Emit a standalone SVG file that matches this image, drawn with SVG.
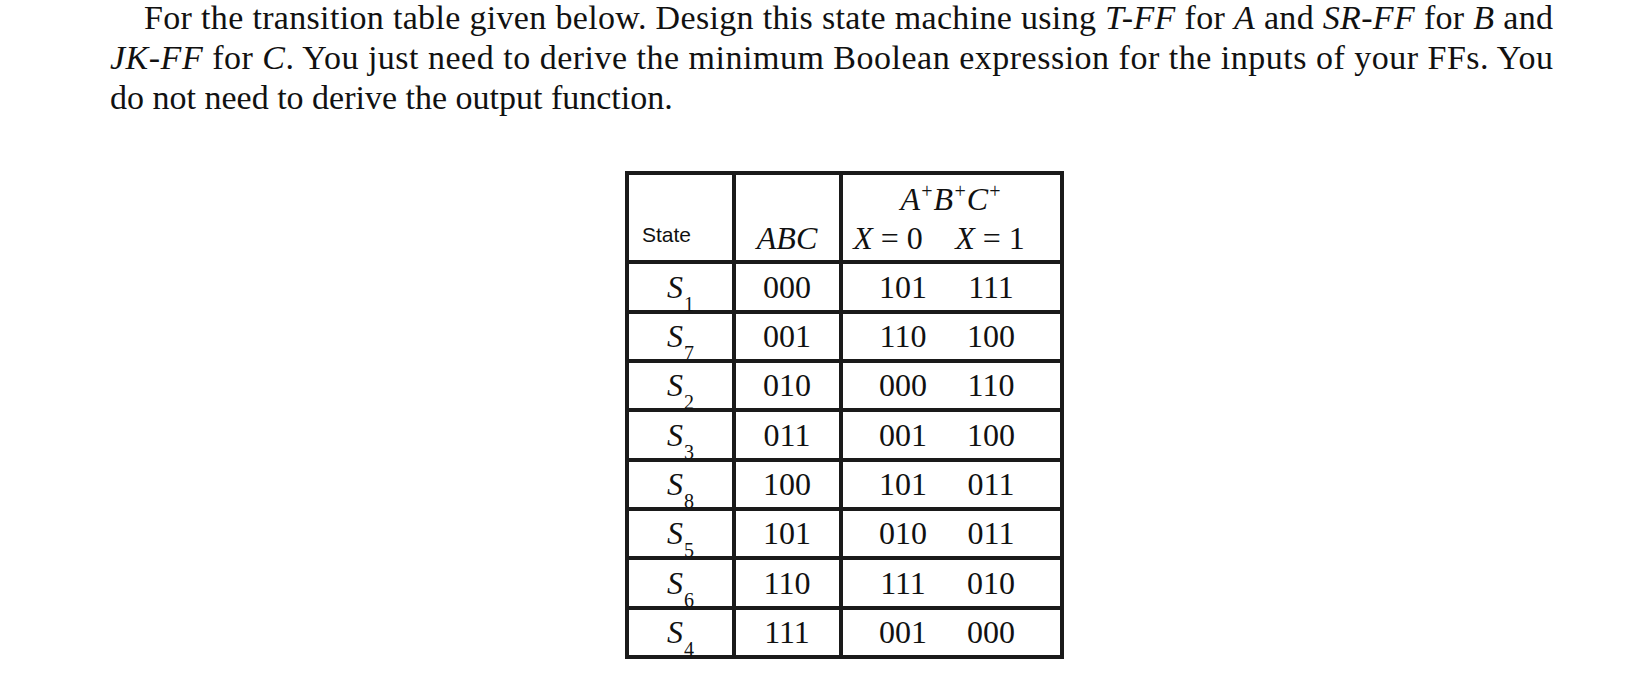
<svg xmlns="http://www.w3.org/2000/svg" width="1652" height="677" viewBox="0 0 1652 677">
<style>
.t{font-family:"Liberation Serif",serif;font-size:34px;fill:#111}
.c{font-family:"Liberation Serif",serif;font-size:32px;fill:#111;text-anchor:middle}
.i{font-style:italic}
.sub{font-family:"Liberation Serif",serif;font-size:20px;fill:#111}
.g{stroke:#1a1a1a;stroke-width:4;fill:none}
</style>
<rect width="1652" height="677" fill="#fff"/>
<g id="text">
<text class="t" x="144" y="29" textLength="1409" lengthAdjust="spacing">For the transition table given below. Design this state machine using <tspan class="i">T-FF</tspan> for <tspan class="i">A</tspan> and <tspan class="i">SR-FF</tspan> for <tspan class="i">B</tspan> and</text>
<text class="t" x="110" y="69" textLength="1443" lengthAdjust="spacing"><tspan class="i">JK-FF</tspan> for <tspan class="i">C</tspan>. You just need to derive the minimum Boolean expression for the inputs of your FFs. You</text>
<text class="t" x="110" y="109">do not need to derive the output function.</text>
</g>
<g id="table">
<rect class="g" x="627" y="173" width="435" height="484"/>
<path class="g" d="M734 173V657M841 173V657M627 262H1062M627 312H1062M627 361H1062M627 410H1062M627 460H1062M627 509H1062M627 558H1062M627 608H1062"/>
<text x="642" y="242" style="font-family:'Liberation Sans',sans-serif;font-size:21px;fill:#111">State</text>
<text class="c i" x="787" y="249">ABC</text>
<text class="c i" x="951" y="210">A<tspan class="sub" dy="-12">+</tspan><tspan dy="12">B</tspan><tspan class="sub" dy="-12">+</tspan><tspan dy="12">C</tspan><tspan class="sub" dy="-12">+</tspan></text>
<text class="c" x="888" y="249"><tspan class="i">X</tspan> = 0</text>
<text class="c" x="990" y="249"><tspan class="i">X</tspan> = 1</text>
<g class="c">
<text class="c" x="787" y="298">000</text><text class="c" x="903" y="298">101</text><text class="c" x="991" y="298">111</text>
<text class="c" x="787" y="347">001</text><text class="c" x="903" y="347">110</text><text class="c" x="991" y="347">100</text>
<text class="c" x="787" y="396">010</text><text class="c" x="903" y="396">000</text><text class="c" x="991" y="396">110</text>
<text class="c" x="787" y="446">011</text><text class="c" x="903" y="446">001</text><text class="c" x="991" y="446">100</text>
<text class="c" x="787" y="495">100</text><text class="c" x="903" y="495">101</text><text class="c" x="991" y="495">011</text>
<text class="c" x="787" y="544">101</text><text class="c" x="903" y="544">010</text><text class="c" x="991" y="544">011</text>
<text class="c" x="787" y="594">110</text><text class="c" x="903" y="594">111</text><text class="c" x="991" y="594">010</text>
<text class="c" x="787" y="643">111</text><text class="c" x="903" y="643">001</text><text class="c" x="991" y="643">000</text>
</g>
<text class="c i" x="675" y="298">S</text><text class="sub" x="684" y="311">1</text>
<text class="c i" x="675" y="347">S</text><text class="sub" x="684" y="360">7</text>
<text class="c i" x="675" y="396">S</text><text class="sub" x="684" y="409">2</text>
<text class="c i" x="675" y="446">S</text><text class="sub" x="684" y="459">3</text>
<text class="c i" x="675" y="495">S</text><text class="sub" x="684" y="508">8</text>
<text class="c i" x="675" y="544">S</text><text class="sub" x="684" y="557">5</text>
<text class="c i" x="675" y="594">S</text><text class="sub" x="684" y="607">6</text>
<text class="c i" x="675" y="643">S</text><text class="sub" x="684" y="656">4</text>
</g>
</svg>
